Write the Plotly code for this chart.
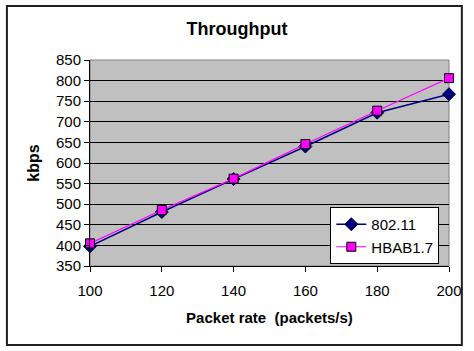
import plotly.graph_objects as go

packet_rate = [100, 120, 140, 160, 180, 200]
ieee80211 = [398, 481, 561, 640, 722, 767]
hbab17 = [405, 486, 562, 646, 727, 806]
x_ticks = [100, 120, 140, 160, 180, 200]
y_ticks = [350, 400, 450, 500, 550, 600, 650, 700, 750, 800, 850]

W, H = 474, 351
L, R, T, B = 90, 21, 60, 85
pw, ph = W - L - R, H - T - B

fig = go.Figure()
fig.add_trace(go.Scatter(
    x=packet_rate, y=ieee80211, name="802.11", mode="lines+markers",
    line=dict(color="#000080", width=1.5),
    marker=dict(symbol="diamond", size=10, color="#000080", line=dict(color="#000040", width=1)),
    cliponaxis=False))
fig.add_trace(go.Scatter(
    x=packet_rate, y=hbab17, name="HBAB1.7", mode="lines+markers",
    line=dict(color="#FF00FF", width=1.2),
    marker=dict(symbol="square", size=9, color="#FF00FF", line=dict(color="#000000", width=1)),
    cliponaxis=False))

font = "Liberation Sans, Arial, sans-serif"
fig.update_layout(
    width=W, height=H, margin=dict(l=L, r=R, t=T, b=B),
    paper_bgcolor="white", plot_bgcolor="#C0C0C0",
    font=dict(family=font, size=15, color="black"),
    title=dict(text="<b>Throughput</b>", x=0.5, xref="container", xanchor="center",
               y=1 - 29 / H, yanchor="middle", font=dict(size=18)),
    xaxis=dict(range=[100, 200], tickvals=x_ticks, showgrid=False, zeroline=False,
               showline=True, linecolor="black", linewidth=1, ticks="outside",
               ticklen=5, tickcolor="black", mirror=False, ticklabelstandoff=6,
               tickfont=dict(size=15),
               title=dict(text="<b>Packet rate  (packets/s)</b>", font=dict(size=15), standoff=14)),
    yaxis=dict(range=[350, 850], tickvals=y_ticks, showgrid=True, gridcolor="black", gridwidth=1,
               zeroline=False, showline=True, linecolor="black", linewidth=1, ticks="outside",
               ticklen=5, tickcolor="black", tickfont=dict(size=15),
               title=dict(text="<b>kbps</b>", font=dict(size=16), standoff=12)),
    legend=dict(x=(333 - L) / pw, y=(H - B - 207) / ph, xanchor="left", yanchor="top",
                bgcolor="white", bordercolor="black", borderwidth=1,
                font=dict(size=15), tracegroupgap=2),
    showlegend=True,
)
# plot area border (grey)
fig.add_shape(type="rect", xref="paper", yref="paper", x0=0, x1=1, y0=0, y1=1,
              line=dict(color="#808080", width=1), layer="below")
# outer chart frame
fig.add_shape(type="rect", xref="paper", yref="paper",
              x0=(6 - L) / pw, x1=(466 - L) / pw,
              y0=(H - B - 345) / ph, y1=(H - B - 6) / ph,
              line=dict(color="#202020", width=2))

fig.write_html("out.html")
